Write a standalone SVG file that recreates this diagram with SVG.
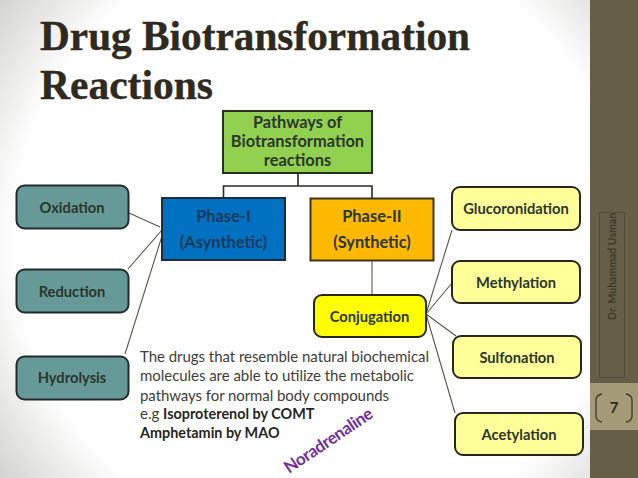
<svg xmlns="http://www.w3.org/2000/svg" width="638" height="478" viewBox="0 0 638 478">
<style>
.t{font-family:"Liberation Serif",serif;font-weight:700;font-size:43px;fill:#2e2a20;stroke:#2e2a20;stroke-width:.4px}
.n{font-family:Lato,"Open Sans",sans-serif;font-weight:700;font-size:14.700px;text-anchor:middle;fill:#2c3628}
.g{font-size:16.400px}
.b{font-family:Lato,"Open Sans",sans-serif;font-size:15px;fill:#3e3e3a}
.s{font-weight:700;font-size:14.400px;fill:#26261f}
.c{stroke:#5a564c;stroke-width:1.100;fill:none}
.k{stroke:#2b2b24;stroke-width:1.600;fill:none}
.teal{fill:#669a99;stroke:#232a2a;stroke-width:2}
.yel{fill:#ffff99;stroke:#26261a;stroke-width:2}
</style>
<defs>
<radialGradient id="bg" gradientUnits="userSpaceOnUse" cx="319" cy="239" r="400">
<stop offset=".76" stop-color="#fff"/><stop offset="1" stop-color="#d2d2d0"/>
</radialGradient>
</defs>
<rect width="638" height="478" fill="url(#bg)"/>
<g id="sidebar">
<rect x="590" width="48" height="478" fill="#675e47"/>
<rect x="590" y="383" width="48" height="47" fill="#a39b78"/>
<rect x="599.500" y="212.500" width="25" height="165" fill="none" stroke="#544c38"/>
<text transform="translate(616,320) rotate(-90)" font-family="Lato,sans-serif" font-weight="700" font-size="10.500" fill="#3f3a2b">Dr. Muhammad Usman</text>
<path d="M602 394Q596 395 596 400V416Q596 421 602 422M626 394Q632 395 632 400V416Q632 421 626 422" fill="none" stroke="#3d382a" stroke-width="1.300"/>
<text x="614" y="413" text-anchor="middle" font-family="Lato,sans-serif" font-weight="700" font-size="15" fill="#2e2a20">7</text>
</g>
<g id="title">
<text class="t" x="40" y="50" textLength="430" lengthAdjust="spacingAndGlyphs">Drug Biotransformation</text>
<text class="t" x="40" y="99" textLength="173" lengthAdjust="spacingAndGlyphs">Reactions</text>
</g>
<g id="connectors">
<path class="k" d="M298 173V186M223.500 198V186H372V198"/>
<path class="c" d="M372 260V295M129 213L160 227M128 269L162 230M125 354L162 236M426 314L452 230M426 314L452 283M426 314L456 336M426 314L455 413"/>
</g>
<g id="pathways"><rect x="223" y="111" width="149" height="62" fill="#92d050" stroke="#26301c" stroke-width="2"/>
<text class="n g" x="297.500" y="128">Pathways of</text><text class="n g" x="297.500" y="147">Biotransformation</text><text class="n g" x="297.500" y="166">reactions</text></g>
<g id="phase1"><rect x="162" y="198" width="123" height="62" fill="#0070c0" stroke="#1c2c3a" stroke-width="2"/>
<text class="n g" x="223.500" y="222" style="fill:#1a3a5c">Phase-I</text><text class="n g" x="223.500" y="248" style="fill:#1a3a5c">(Asynthetic)</text></g>
<g id="phase2"><rect x="310.500" y="198.500" width="123" height="62" fill="#ffb900" stroke="#3a3420" stroke-width="2"/>
<text class="n g" x="372" y="222">Phase-II</text><text class="n g" x="372" y="248">(Synthetic)</text></g>
<g id="oxidation"><rect class="teal" x="16.500" y="185.500" width="112" height="43" rx="8"/><text class="n" x="72" y="212.500">Oxidation</text></g>
<g id="reduction"><rect class="teal" x="16.500" y="269.500" width="112" height="43" rx="8"/><text class="n" x="72" y="296.500">Reduction</text></g>
<g id="hydrolysis"><rect class="teal" x="16.500" y="356.500" width="112" height="43" rx="8"/><text class="n" x="72" y="383">Hydrolysis</text></g>
<g id="conjugation"><rect x="314" y="295" width="112" height="42" rx="8" fill="#ffff00" stroke="#26261a" stroke-width="2"/><text class="n" x="369.500" y="322">Conjugation</text></g>
<g id="glucoronidation"><rect class="yel" x="452" y="187" width="128" height="43" rx="8"/><text class="n" x="516" y="214">Glucoronidation</text></g>
<g id="methylation"><rect class="yel" x="452" y="261" width="128" height="42" rx="8"/><text class="n" x="516" y="288">Methylation</text></g>
<g id="sulfonation"><rect class="yel" x="453" y="336" width="128" height="42" rx="8"/><text class="n" x="517" y="363">Sulfonation</text></g>
<g id="acetylation"><rect class="yel" x="455" y="413" width="128" height="42" rx="8"/><text class="n" x="519" y="440">Acetylation</text></g>
<g id="note">
<text class="b" x="140" y="362" textLength="289">The drugs that resemble natural biochemical</text>
<text class="b" x="140" y="381" textLength="274">molecules are able to utilize the metabolic</text>
<text class="b" x="140" y="401" textLength="249">pathways for normal body compounds</text>
<text class="b" x="140" y="419">e.g <tspan class="s">Isoproterenol by COMT</tspan></text>
<text class="b s" x="140" y="438">Amphetamin by MAO</text>
<text transform="translate(289,474) rotate(-34)" font-family="Lato,sans-serif" font-size="17" font-weight="700" fill="#7030a0" textLength="103">Noradrenaline</text>
</g>
</svg>
